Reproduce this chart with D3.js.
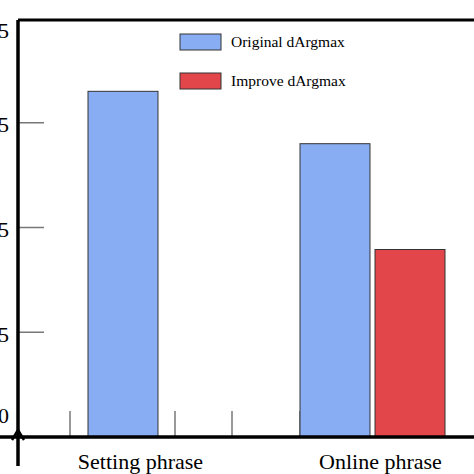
<!DOCTYPE html>
<html><head><meta charset="utf-8">
<script src="https://cdn.jsdelivr.net/npm/d3@7"></script>
<style>body{margin:0;background:#fff}svg{display:block}text{font-family:"Liberation Serif",serif}</style>
</head><body><svg></svg>
<script>
const groups = ["Setting phrase", "Online phrase"];
const series = ["Original dArgmax", "Improve dArgmax"];
const original = [3.3, 2.8];
const improve = [0, 1.79];
const tickValues = [0, 1, 2, 3, 4];
const tickLabels = ["0", "15", "25", "35", "45"];

const width = 474, height = 474;
const colors = ["#89adf2", "#e2464b"];
const svg = d3.select("svg").attr("width", width).attr("height", height);

const yScale = d3.scaleLinear().domain([0, 4]).range([437, 18]);
const x0 = d3.scaleBand().domain(groups).range([88, 445]).paddingInner(0.316).paddingOuter(0);
const x1 = d3.scaleBand().domain(series).range([0, x0.bandwidth()]).paddingInner(0.067);

// frame
svg.append("line").attr("x1", 18).attr("x2", 474).attr("y1", 20).attr("y2", 20)
  .attr("stroke", "#000").attr("stroke-width", 3);

// bottom minor ticks (behind bars)
const minor = [70, 175, 232, 300, 408];
svg.selectAll(".xt").data(minor).enter().append("line")
  .attr("x1", d => d).attr("x2", d => d).attr("y1", 411).attr("y2", 437)
  .attr("stroke", "#777").attr("stroke-width", 1.5);

// bars
const data = groups.map((g, i) => ({g, vals: [original[i], improve[i]]}));
data.forEach(d => {
  d.vals.forEach((v, j) => {
    if (v <= 0) return;
    svg.append("rect")
      .attr("x", x0(d.g) + x1(series[j]))
      .attr("y", yScale(v))
      .attr("width", x1.bandwidth())
      .attr("height", yScale(0) - yScale(v))
      .attr("fill", colors[j]).attr("stroke", "#333").attr("stroke-width", 1);
  });
});

// left ticks
svg.selectAll(".ytick").data(tickValues.filter(t => t > 0 && t < 4)).enter().append("line")
  .attr("x1", 18).attr("x2", 44).attr("y1", d => yScale(d)).attr("y2", d => yScale(d))
  .attr("stroke", "#777").attr("stroke-width", 1.5);
svg.selectAll(".ylab").data(tickValues).enter().append("text")
  .attr("x", 9).attr("y", d => d === 0 ? yScale(d) - 22 : (d === 4 ? 30 : yScale(d) + 2))
  .attr("dy", "0.35em").attr("text-anchor", "end").attr("font-size", 22)
  .text((d, i) => tickLabels[i]);

// axes
svg.append("line").attr("x1", 0).attr("x2", 474).attr("y1", 437).attr("y2", 437)
  .attr("stroke", "#000").attr("stroke-width", 3.5);
svg.append("line").attr("x1", 18).attr("x2", 18).attr("y1", 20).attr("y2", 466)
  .attr("stroke", "#000").attr("stroke-width", 3.5);
svg.append("path").attr("d", "M12,440 L18,430 L24,440").attr("fill", "none")
  .attr("stroke", "#000").attr("stroke-width", 2.5);

// x labels
const labelShift = [-20, 8];
svg.selectAll(".xl").data(groups).enter().append("text")
  .attr("x", (d, i) => x0(d) + x0.bandwidth() / 2 + labelShift[i]).attr("y", 469)
  .attr("text-anchor", "middle").attr("font-size", 22).text(d => d);

// legend
series.forEach((s, i) => {
  const y = 34 + i * 39;
  svg.append("rect").attr("x", 180).attr("y", y).attr("width", 41).attr("height", 16)
    .attr("fill", colors[i]).attr("stroke", "#333").attr("stroke-width", 1);
  svg.append("text").attr("x", 231).attr("y", y + 8).attr("dy", "0.35em")
    .attr("font-size", 15.5).text(s);
});
</script></body></html>
